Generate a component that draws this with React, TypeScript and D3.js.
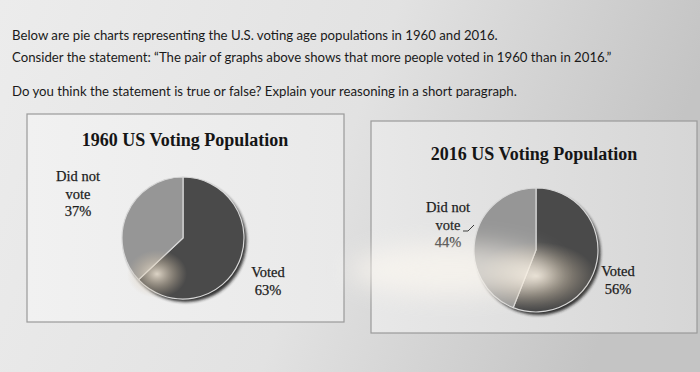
import React, { useEffect, useRef } from "react";
import * as d3 from "d3";

// Data read from the photographed worksheet
const slices = ["Voted", "Did not vote"];
const values1960 = [63, 37];
const values2016 = [56, 44];
const chartTitles = ["1960 US Voting Population", "2016 US Voting Population"];
const promptLines = [
  "Below are pie charts representing the U.S. voting age populations in 1960 and 2016.",
  "Consider the statement: \u201CThe pair of graphs above shows that more people voted in 1960 than in 2016.\u201D",
  "Do you think the statement is true or false? Explain your reasoning in a short paragraph.",
];

const W = 700;
const H = 372;

const sliceColor = d3.scaleOrdinal<string>().domain(slices).range(["#4a4a4a", "#969696"]);

const App: React.FC = () => {
  const svgRef = useRef<SVGSVGElement>(null);

  useEffect(() => {
    if (!svgRef.current) return;
    const svg = d3.select(svgRef.current);
    svg.selectAll("*").remove();

    const defs = svg.append("defs");

    // page shading (photo lighting)
    const bg = defs.append("linearGradient").attr("id", "bg").attr("x1", 0).attr("x2", 1).attr("y1", 0).attr("y2", 0.2);
    bg.append("stop").attr("offset", "0%").attr("stop-color", "#ececec");
    bg.append("stop").attr("offset", "55%").attr("stop-color", "#e2e2e2");
    bg.append("stop").attr("offset", "100%").attr("stop-color", "#c4c4c4");

    const box = defs.append("linearGradient").attr("id", "box").attr("x1", 0).attr("x2", 1);
    box.append("stop").attr("offset", "0%").attr("stop-color", "#f1f1f1");
    box.append("stop").attr("offset", "100%").attr("stop-color", "#e9e9e9");

    const box2 = defs.append("linearGradient").attr("id", "box2").attr("x1", 0).attr("x2", 1);
    box2.append("stop").attr("offset", "0%").attr("stop-color", "#e8e8e8");
    box2.append("stop").attr("offset", "100%").attr("stop-color", "#d6d6d6");

    const blur = defs.append("filter").attr("id", "blur").attr("x", "-50%").attr("y", "-50%").attr("width", "200%").attr("height", "200%");
    blur.append("feGaussianBlur").attr("stdDeviation", 1.5);
    const bigBlur = defs.append("filter").attr("id", "bigBlur").attr("x", "-50%").attr("y", "-50%").attr("width", "200%").attr("height", "200%");
    bigBlur.append("feGaussianBlur").attr("stdDeviation", 12);

    const glare = defs.append("radialGradient").attr("id", "glare");
    glare.append("stop").attr("offset", "0%").attr("stop-color", "#f6ecdc").attr("stop-opacity", 0.85);
    glare.append("stop").attr("offset", "60%").attr("stop-color", "#d9c9b0").attr("stop-opacity", 0.35);
    glare.append("stop").attr("offset", "100%").attr("stop-color", "#c8b8a0").attr("stop-opacity", 0);

    svg.append("rect").attr("width", W).attr("height", H).attr("fill", "url(#bg)");

    // prompt text
    const promptY = [40, 62, 96];
    svg
      .selectAll("text.prompt")
      .data(promptLines)
      .enter()
      .append("text")
      .attr("class", "prompt")
      .attr("x", 12)
      .attr("y", (_, i) => promptY[i])
      .attr("font-family", "Lato, sans-serif")
      .attr("font-size", 13.2)
      .attr("fill", "#1a1a1a")
      .text((d) => d);

    const panels = [
      { x: 27, y: 114, w: 317, h: 208, fill: "url(#box)", cx: 183, cy: 238, r: 61, titleX: 185, titleY: 146, values: values1960,
        left: { x: 78, y: 181, lines: ["Did not", "vote", "37%"] }, right: { x: 268, y: 277, lines: ["Voted", "63%"] } },
      { x: 371, y: 121, w: 326, h: 212, fill: "url(#box2)", cx: 536, cy: 250, r: 62, titleX: 534, titleY: 160, values: values2016,
        left: { x: 448, y: 212, lines: ["Did not", "vote", "44%"] }, right: { x: 618, y: 276, lines: ["Voted", "56%"] } },
    ];

    const pie = d3.pie<number>().value((d) => d).sort(null);

    panels.forEach((p, pi) => {
      const g = svg.append("g");
      g.append("rect").attr("x", p.x).attr("y", p.y).attr("width", p.w).attr("height", p.h)
        .attr("fill", p.fill).attr("stroke", "#9a9a9a").attr("stroke-width", 1.2);

      g.append("text").attr("x", p.titleX).attr("y", p.titleY).attr("text-anchor", "middle")
        .attr("font-family", "'Liberation Serif', 'DejaVu Serif', serif").attr("font-weight", "bold")
        .attr("font-size", 18).attr("fill", "#151515").text(chartTitles[pi]);

      const pg = g.append("g").attr("transform", `translate(${p.cx},${p.cy})`);
      // shadow rim
      pg.append("circle").attr("cx", 2.5).attr("cy", 3).attr("r", p.r).attr("fill", "#1e1e1e").attr("opacity", 0.9).attr("filter", "url(#blur)");

      const arc = d3.arc<d3.PieArcDatum<number>>().innerRadius(0).outerRadius(p.r);
      pg.selectAll("path.slice")
        .data(pie(p.values))
        .enter()
        .append("path")
        .attr("class", "slice")
        .attr("d", arc)
        .attr("fill", (_, i) => sliceColor(slices[i]))
        .attr("stroke", "#d8d8d8")
        .attr("stroke-width", 1.2);

      // glare from the photo
      if (pi === 0) {
        pg.append("ellipse").attr("cx", -26).attr("cy", 36).attr("rx", 30).attr("ry", 24).attr("fill", "url(#glare)");
      } else {
        pg.append("ellipse").attr("cx", 0).attr("cy", 26).attr("rx", 60).attr("ry", 34).attr("fill", "url(#glare)");
      }

      const label = (l: { x: number; y: number; lines: string[] }) => {
        g.append("text").attr("x", l.x).attr("y", l.y).attr("text-anchor", "middle")
          .attr("font-family", "'Liberation Serif', 'DejaVu Serif', serif").attr("font-size", 14.5).attr("fill", "#1c1c1c")
          .attr("stroke", "#1c1c1c").attr("stroke-width", 0.25)
          .selectAll("tspan").data(l.lines).enter().append("tspan")
          .attr("x", l.x).attr("dy", (_, i) => (i === 0 ? 0 : 17.5)).text((d) => d);
      };
      label(p.left);
      label(p.right);

      if (pi === 1) {
        g.append("path").attr("d", `M${p.left.x + 15},${p.left.y + 19} L${p.left.x + 20},${p.left.y + 19} L${p.left.x + 26},${p.left.y + 13}`)
          .attr("fill", "none").attr("stroke", "#333").attr("stroke-width", 1);
      }
    });

    // bright horizontal glare band on the right panel
    svg.append("ellipse").attr("cx", 450).attr("cy", 270).attr("rx", 100).attr("ry", 26)
      .attr("fill", "#fffaf2").attr("opacity", 0.6).attr("filter", "url(#bigBlur)");
  }, []);

  return (
    <div>
      <style>{"body{margin:0}"}</style>
      <svg ref={svgRef} width={W} height={H} style={{ display: "block" }}></svg>
    </div>
  );
};

export default App;
